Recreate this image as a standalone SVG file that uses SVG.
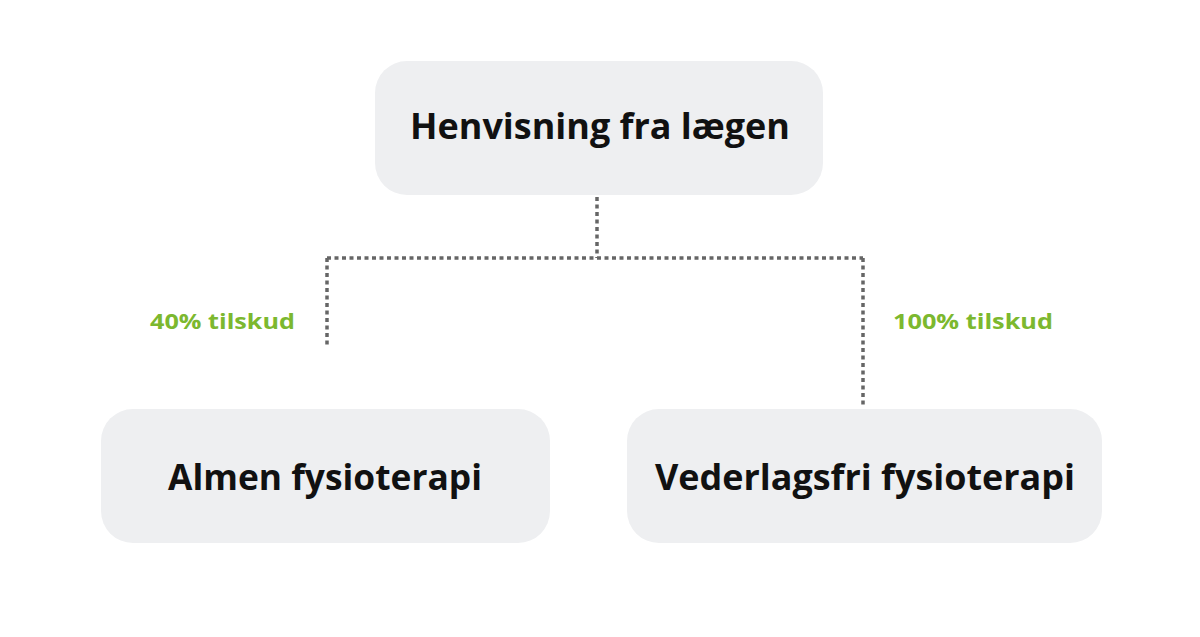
<svg xmlns="http://www.w3.org/2000/svg" width="1200" height="637" viewBox="0 0 1200 637">
<style>
.box{fill:#eeeff1}
.t{font-family:"Open Sans","Liberation Sans",sans-serif;font-weight:700;font-size:35px;fill:#111;text-anchor:middle}
.lbl{font-family:"Open Sans","Liberation Sans",sans-serif;font-weight:700;font-size:22px;fill:#7cb82f;text-anchor:middle}
.c{fill:none;stroke:#666;stroke-width:3.5;stroke-dasharray:4 3.5}
</style>
<rect width="1200" height="637" fill="#fff"/>
<g id="connectors">
<path class="c" d="M597 197V258"/>
<path class="c" d="M327 258H863"/>
<path class="c" d="M327 258V348"/>
<path class="c" d="M863 258V407"/>
<text class="lbl" x="222.5" y="329" textLength="145" lengthAdjust="spacingAndGlyphs">40% tilskud</text>
<text class="lbl" x="973" y="329" textLength="160" lengthAdjust="spacingAndGlyphs">100% tilskud</text>
</g>
<g id="henvisning">
<rect class="box" x="375" y="61" width="448" height="134" rx="32"/>
<text class="t" x="600" y="139" textLength="380" lengthAdjust="spacingAndGlyphs">Henvisning fra lægen</text>
</g>
<g id="almen">
<rect class="box" x="101" y="409" width="449" height="134" rx="32"/>
<text class="t" x="325" y="490" textLength="314" lengthAdjust="spacingAndGlyphs">Almen fysioterapi</text>
</g>
<g id="vederlagsfri">
<rect class="box" x="627" y="409" width="475" height="134" rx="32"/>
<text class="t" x="865" y="490" textLength="420" lengthAdjust="spacingAndGlyphs">Vederlagsfri fysioterapi</text>
</g>
</svg>
